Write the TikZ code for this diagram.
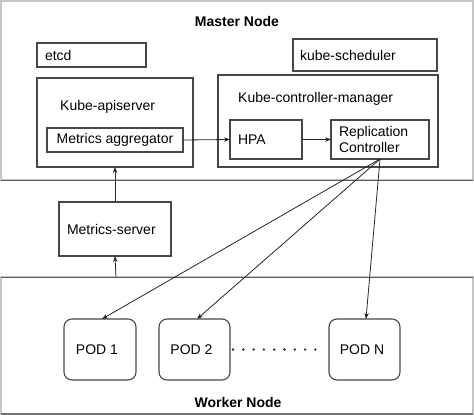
\documentclass[tikz,border=0pt]{standalone}
\usepackage{fontspec}
\setmainfont{Liberation Sans}
\usetikzlibrary{arrows.meta}
\begin{document}
\begin{tikzpicture}[x=1pt,y=-1pt,
  every node/.style={font=\fontsize{14}{16}\selectfont},
  region/.style={draw=gray!45, line width=1.2pt, anchor=north west, inner sep=0pt, outer sep=0pt},
  box/.style={draw=black!72, line width=1.1pt, anchor=north west, inner sep=0pt, outer sep=0pt},
  tbox/.style={box, inner xsep=8pt, align=left},
  pod/.style={box, rounded corners=8pt},
  lbl/.style={anchor=west, inner sep=0pt},
  ttl/.style={font=\fontsize{14}{16}\selectfont\bfseries, inner sep=0pt},
  arr/.style={draw=black!85, line width=0.8pt, -{Stealth[length=6pt,width=4.5pt]}}
]
\useasboundingbox (0,0) rectangle (474,415);

% regions
\node[region, minimum width=472pt, minimum height=179pt] (master) at (1,1) {};
\node[region, minimum width=472pt, minimum height=137pt] (worker) at (1,277) {};
\draw[black!65, line width=1pt] (master.south west) -- (master.south east);
\draw[black!65, line width=1pt] (worker.north west) -- (worker.north east);
\draw[black!55, line width=1.2pt] (worker.south west) -- (worker.south east);
\node[ttl] (mtitle) at (237,21) {Master Node};
\node[ttl] (wtitle) at (238,402) {Worker Node};

% master components
\node[tbox, minimum height=24pt, text width=93pt] (etcd) at (37,43) {etcd};
\node[tbox, minimum height=32pt, text width=130pt, inner xsep=7pt] (sched) at (293,39) {kube-scheduler};

\node[box, minimum width=156pt, minimum height=89pt] (api) at (37,78) {};
\node[lbl] (apil) at (60,107) {Kube-apiserver};
\node[box, minimum width=136pt, minimum height=24pt] (agg) at (47,128) {Metrics aggregator};

\node[box, minimum width=220pt, minimum height=92pt] (kcm) at (218,75) {};
\node[lbl] (kcml) at (238,99) {Kube-controller-manager};
\node[tbox, minimum height=39pt, text width=56pt] (hpa) at (230,120) {HPA};
\node[tbox, minimum height=39pt, text width=82pt] (rc) at (331,120) {Replication\\Controller};

% metrics server
\node[tbox, minimum height=54pt, text width=96pt] (ms) at (59,202) {Metrics-server};
\coordinate (wtop) at (116,277);

% pods
\node[pod, minimum width=72pt, minimum height=61pt] (pod1) at (64,319) {\hspace*{-6pt}POD 1};
\node[pod, minimum width=71pt, minimum height=61pt] (pod2) at (159,319) {\hspace*{-6pt}POD 2};
\node[pod, minimum width=71pt, minimum height=61pt] (podn) at (329,319) {\hspace*{-5pt}POD N};

% connectors
\draw[arr] (agg.east) -- (hpa.west);
\draw[arr] (hpa.east) -- (rc.west);
\draw[arr] (ms.north) -- (api.south);
\draw[arr] (wtop) -- (ms.south);
\draw[arr] (rc.south) -- ([xshift=2pt]pod1.north);
\draw[arr] (rc.south) -- ([xshift=2.5pt]pod2.north);
\draw[arr] (rc.south) -- ([xshift=1.5pt]podn.north);
\draw[black!85, line width=2.6pt, line cap=round, dash pattern=on 0pt off 10.3pt]
  ([xshift=3pt]pod2.east) -- ([xshift=-4pt]podn.west);
\end{tikzpicture}
\end{document}
